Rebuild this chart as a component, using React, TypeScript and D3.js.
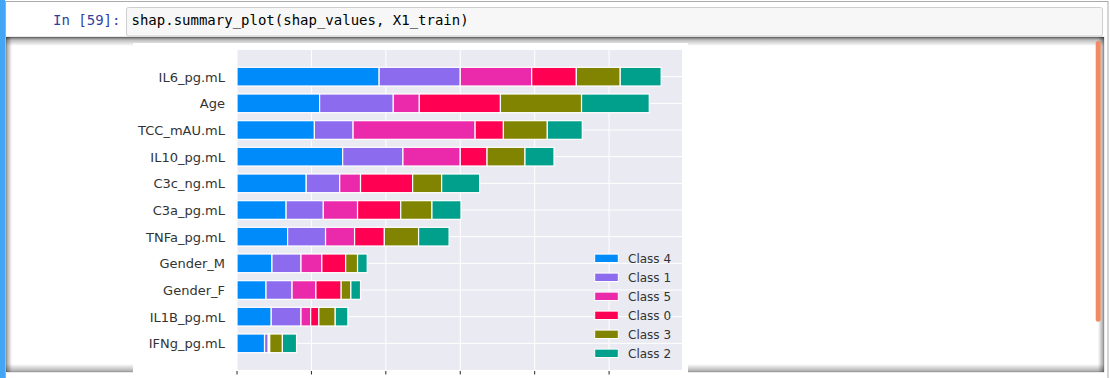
import React from "react";
import * as d3 from "d3";

const features = [
  "IL6_pg.mL", "Age", "TCC_mAU.mL", "IL10_pg.mL", "C3c_ng.mL", "C3a_pg.mL",
  "TNFa_pg.mL", "Gender_M", "Gender_F", "IL1B_pg.mL", "IFNg_pg.mL",
];
const classNames = ["Class 4", "Class 1", "Class 5", "Class 0", "Class 3", "Class 2"];
const class4 = [0.191, 0.111, 0.104, 0.142, 0.093, 0.066, 0.068, 0.047, 0.039, 0.046, 0.037];
const class1 = [0.109, 0.099, 0.052, 0.081, 0.045, 0.050, 0.051, 0.039, 0.035, 0.040, 0.005];
const class5 = [0.096, 0.035, 0.164, 0.077, 0.028, 0.046, 0.039, 0.028, 0.032, 0.013, 0.001];
const class0 = [0.060, 0.109, 0.038, 0.036, 0.070, 0.058, 0.040, 0.032, 0.034, 0.011, 0.001];
const class3 = [0.059, 0.109, 0.059, 0.051, 0.039, 0.042, 0.046, 0.016, 0.013, 0.022, 0.017];
const class2 = [0.055, 0.091, 0.047, 0.039, 0.051, 0.039, 0.041, 0.013, 0.013, 0.017, 0.019];
const xTicks = [0, 0.1, 0.2, 0.3, 0.4, 0.5];

const seriesValues = [class4, class1, class5, class0, class3, class2];
const colors = ["#008bfb", "#8c6bef", "#ea2aab", "#ff0052", "#818400", "#00a08c"];

export default function App() {
  const W = 1110, H = 378;
  const ax = { left: 237, right: 682, top: 50, bottom: 370 };
  const x = d3.scaleLinear().domain([0, 0.598]).range([ax.left, ax.right]);
  const y = d3.scaleLinear().domain([-1, features.length]).range([ax.top, ax.bottom]);
  const barH = Math.abs(y(0.35) - y(-0.35));

  const rows = features.map((f, i) => {
    const table: Record<string, number> = {};
    classNames.forEach((c, k) => (table[c] = seriesValues[k][i]));
    return { feature: f, ...table } as any;
  });
  const stacked = d3.stack<any>().keys(classNames)(rows);

  const legendX = 594.7;
  const legendY0 = 258.3;
  const legendStep = 19;

  return (
    <svg width={W} height={H} style={{ position: "absolute", left: 0, top: 0 }} xmlns="http://www.w3.org/2000/svg">
      <defs>
        <linearGradient id="shTop" x1="0" y1="0" x2="0" y2="1">
          <stop offset="0" stopColor="#000" stopOpacity="0.6" />
          <stop offset="0.35" stopColor="#000" stopOpacity="0.25" />
          <stop offset="1" stopColor="#000" stopOpacity="0" />
        </linearGradient>
        <linearGradient id="shBottom" x1="0" y1="1" x2="0" y2="0">
          <stop offset="0" stopColor="#000" stopOpacity="0.35" />
          <stop offset="1" stopColor="#000" stopOpacity="0" />
        </linearGradient>
        <linearGradient id="shLeft" x1="0" y1="0" x2="1" y2="0">
          <stop offset="0" stopColor="#000" stopOpacity="0.4" />
          <stop offset="1" stopColor="#000" stopOpacity="0" />
        </linearGradient>
        <linearGradient id="shRight" x1="1" y1="0" x2="0" y2="0">
          <stop offset="0" stopColor="#000" stopOpacity="0.4" />
          <stop offset="1" stopColor="#000" stopOpacity="0" />
        </linearGradient>
      </defs>
      <rect x={0} y={0} width={W} height={H} fill="#ffffff" />
      {/* cell border */}
      <rect x={5.5} y={1.5} width={1102.5} height={H + 10} fill="none" stroke="#ababab" strokeWidth={1} />
      {/* left selected bar */}
      <rect x={0} y={0} width={5} height={H} fill="#42a5f5" />
      {/* prompt */}
      <text x={53} y={25} fontFamily="'DejaVu Sans Mono', monospace" fontSize={14} fill="#303f9f">In [59]:</text>
      {/* input area */}
      <rect x={126.5} y={7.5} width={976} height={28.5} rx={2} fill="#f7f7f7" stroke="#cfcfcf" />
      <text x={131.5} y={25} fontFamily="'DejaVu Sans Mono', monospace" fontSize={14} fill="#000">shap.summary_plot(shap_values, X1_train)</text>
      {/* output scroll area with inset shadow */}
      <rect x={6} y={37} width={1098} height={335} fill="#fff" stroke="#c8c8c8" strokeWidth={0.8} />
      <rect x={6} y={37} width={1098} height={9} fill="url(#shTop)" />
      <rect x={6} y={364} width={1098} height={8} fill="url(#shBottom)" />
      <rect x={6} y={37} width={6} height={335} fill="url(#shLeft)" />
      <rect x={1098} y={37} width={6} height={335} fill="url(#shRight)" />
      {/* scrollbar */}
      <rect x={1095.7} y={40.7} width={5} height={281} rx={2.5} fill="#ef8c66" />
      {/* figure */}
      <rect x={133} y={43} width={555} height={H - 43} fill="#ffffff" />
      {/* axes background */}
      <rect x={ax.left} y={ax.top} width={ax.right - ax.left} height={ax.bottom - ax.top} fill="#eaeaf2" />
      {/* grid */}
      {xTicks.map((t) => (
        <line key={"gx" + t} x1={x(t)} x2={x(t)} y1={ax.top} y2={ax.bottom} stroke="#fff" strokeWidth={1} />
      ))}
      {features.map((f, i) => (
        <line key={"gy" + f} x1={ax.left} x2={ax.right} y1={y(i)} y2={y(i)} stroke="#fff" strokeWidth={1} />
      ))}
      {/* bars */}
      {stacked.map((s, k) => (
        <g key={s.key} fill={colors[k]}>
          {s.map((d, i) => (
            <rect
              key={i}
              x={x(d[0])}
              y={y(i) - barH / 2}
              width={Math.max(0, x(d[1]) - x(d[0]))}
              height={barH}
              stroke="#fff"
              strokeWidth={1.2}
            />
          ))}
        </g>
      ))}
      {/* y labels */}
      {features.map((f, i) => (
        <text key={"yl" + f} x={225} y={y(i) + 0.5} dy="0.35em" textAnchor="end" fontFamily="'DejaVu Sans', sans-serif" fontSize={13} fill="#333">
          {f}
        </text>
      ))}
      {/* x ticks */}
      {xTicks.map((t) => (
        <line key={"tx" + t} x1={x(t)} x2={x(t)} y1={ax.bottom + 1} y2={ax.bottom + 4.5} stroke="#262626" strokeWidth={1} />
      ))}
      {/* legend */}
      {classNames.map((c, k) => (
        <g key={"lg" + c}>
          <rect x={legendX} y={legendY0 + k * legendStep - 4.2} width={23.6} height={8.4} fill={colors[k]} stroke="#fff" strokeWidth={1} />
          <text x={628} y={legendY0 + k * legendStep} dy="0.35em" fontFamily="'DejaVu Sans', sans-serif" fontSize={12} fill="#333">
            {c}
          </text>
        </g>
      ))}
    </svg>
  );
}
